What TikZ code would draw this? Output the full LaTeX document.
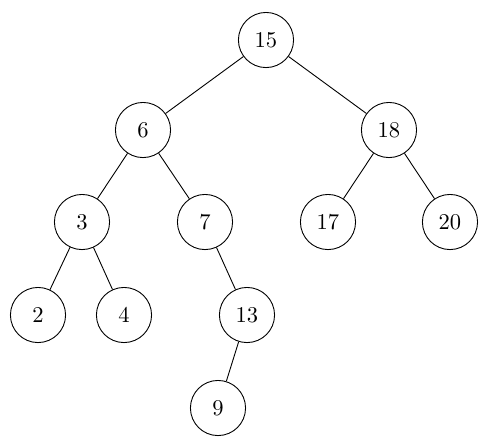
\documentclass[tikz,border=0pt]{standalone}
\usepackage{tikz}
\usetikzlibrary{positioning}

\begin{document}
\begin{tikzpicture}[
    x=0.0156cm, y=-0.0156cm,
    vertex/.style={circle, draw, minimum size=0.86cm, inner sep=0pt},
    edge/.style={draw}
]
\useasboundingbox (0,0) rectangle (489,445);

% Nodos del arbol
\node[vertex] (n15) at (266,40)  {15};
\node[vertex] (n6)  at (143,130) {6};
\node[vertex] (n18) at (389,130) {18};
\node[vertex] (n3)  at (82,222)  {3};
\node[vertex] (n7)  at (205,222) {7};
\node[vertex] (n17) at (328,222) {17};
\node[vertex] (n20) at (450,222) {20};
\node[vertex] (n2)  at (38,315)  {2};
\node[vertex] (n4)  at (124,315) {4};
\node[vertex] (n13) at (247,315) {13};
\node[vertex] (n9)  at (218,408) {9};

% Aristas
\foreach \a/\b in {n15/n6,n15/n18,n6/n3,n6/n7,n18/n17,n18/n20,n3/n2,n3/n4,n7/n13,n13/n9} {
    \draw[edge] (\a) -- (\b);
}

\end{tikzpicture}
\end{document}
